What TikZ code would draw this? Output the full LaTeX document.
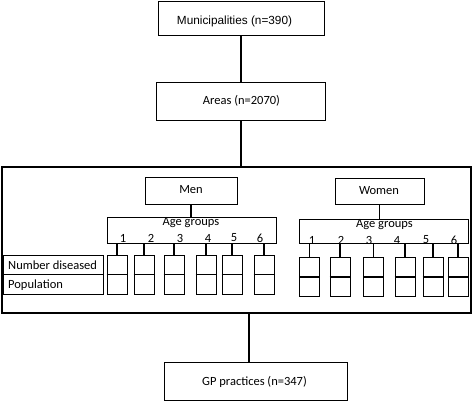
\documentclass[tikz,border=0pt]{standalone}
\usepackage{fontspec}
\setmainfont{Carlito}
\newfontfamily\arialf{Liberation Sans}
\begin{document}
\begin{tikzpicture}[x=1pt,y=-1pt,
  box/.style={draw=black, line width=0.9pt, fill=white, inner sep=0pt},
  bigbox/.style={draw=black, line width=2pt, inner sep=0pt},
  conn/.style={draw=black, line width=1.4pt},
  tick/.style={draw=black, line width=1.4pt},
  cellbox/.style={box, minimum width=20pt, minimum height=39pt},
  txt/.style={font=\fontsize{12.5}{14}\selectfont, inner sep=0pt},
  num/.style={font=\fontsize{12.5}{14}\selectfont, inner sep=0pt}]
\useasboundingbox (0,0) rectangle (474,401);

% outer group box
\node[bigbox, minimum width=469pt, minimum height=146pt] (big) at (236.5,240) {};

% top boxes
\node[box, minimum width=166pt, minimum height=34pt] (mun) at (241,18) {};
\node[txt, font=\arialf\fontsize{11.8}{14}\selectfont] (muntxt) at (234.5,21.5) {Municipalities (n=390)};
\node[box, minimum width=169pt, minimum height=38pt] (areas) at (241,101) {};
\node[txt] (areastxt) at (241.5,101) {Areas (n=2070)};
\node[box, minimum width=183pt, minimum height=38pt] (gp) at (255.5,381) {};
\node[txt] (gptxt) at (254.5,382) {GP practices (n=347)};

\draw[conn] (mun.south) -- (areas.north);
\draw[conn] (areas.south) -- (areas.south |- big.north);
\coordinate (gpin) at ([xshift=-6.5pt]gp.north);
\draw[conn] (gpin |- big.south) -- (gpin);

% label box
\node[box, minimum width=100pt, minimum height=39pt] (lab) at (53,274.5) {};
\draw[line width=1.2pt] (lab.west) -- (lab.east);
\node[txt, anchor=west] (nd) at (8,265) {Number diseased};
\node[txt, anchor=west] (pop) at (8,285.5) {Population};

% Men
\node[box, minimum width=92pt, minimum height=27pt] (men) at (191,190.5) {};
\node[txt] (mentxt) at (191,189.5) {Men};
\node[box, minimum width=169pt, minimum height=26pt] (mage) at (191.5,230) {};
\node[txt] (magetxt) at (191,223) {Age groups};
\draw[tick] (men.south) -- (men.south |- mage.north);
\foreach \i/\cx/\nx in {1/117/123,2/144/151,3/174/180,4/206/208,5/232/234,6/264/260}{
  \node[cellbox] (mc\i) at (\cx,274.5) {};
  \draw[line width=1.2pt] (mc\i.west) -- (mc\i.east);
  \draw[tick] (mc\i.north |- mage.south) -- (mc\i.north);
  \node[num] (mn\i) at (\nx,238) {\i};
}

% Women
\node[box, minimum width=89pt, minimum height=26pt] (women) at (379.5,191) {};
\node[txt] (womentxt) at (379,191) {Women};
\node[box, minimum width=169pt, minimum height=24pt] (wage) at (383.5,231) {};
\node[txt] (wagetxt) at (384.5,225) {Age groups};
\draw[tick] (women.south) -- (women.south |- wage.north);
\foreach \i/\cx/\nx in {1/309.5/312,2/340/341,3/373.5/369,4/405/397,5/433/426,6/458/454}{
  \node[cellbox] (wc\i) at (\cx,277) {};
  \draw[line width=1.2pt] (wc\i.west) -- (wc\i.east);
  \draw[tick] (wc\i.north |- wage.south) -- (wc\i.north);
  \node[num] (wn\i) at (\nx,240) {\i};
}
\end{tikzpicture}
\end{document}
